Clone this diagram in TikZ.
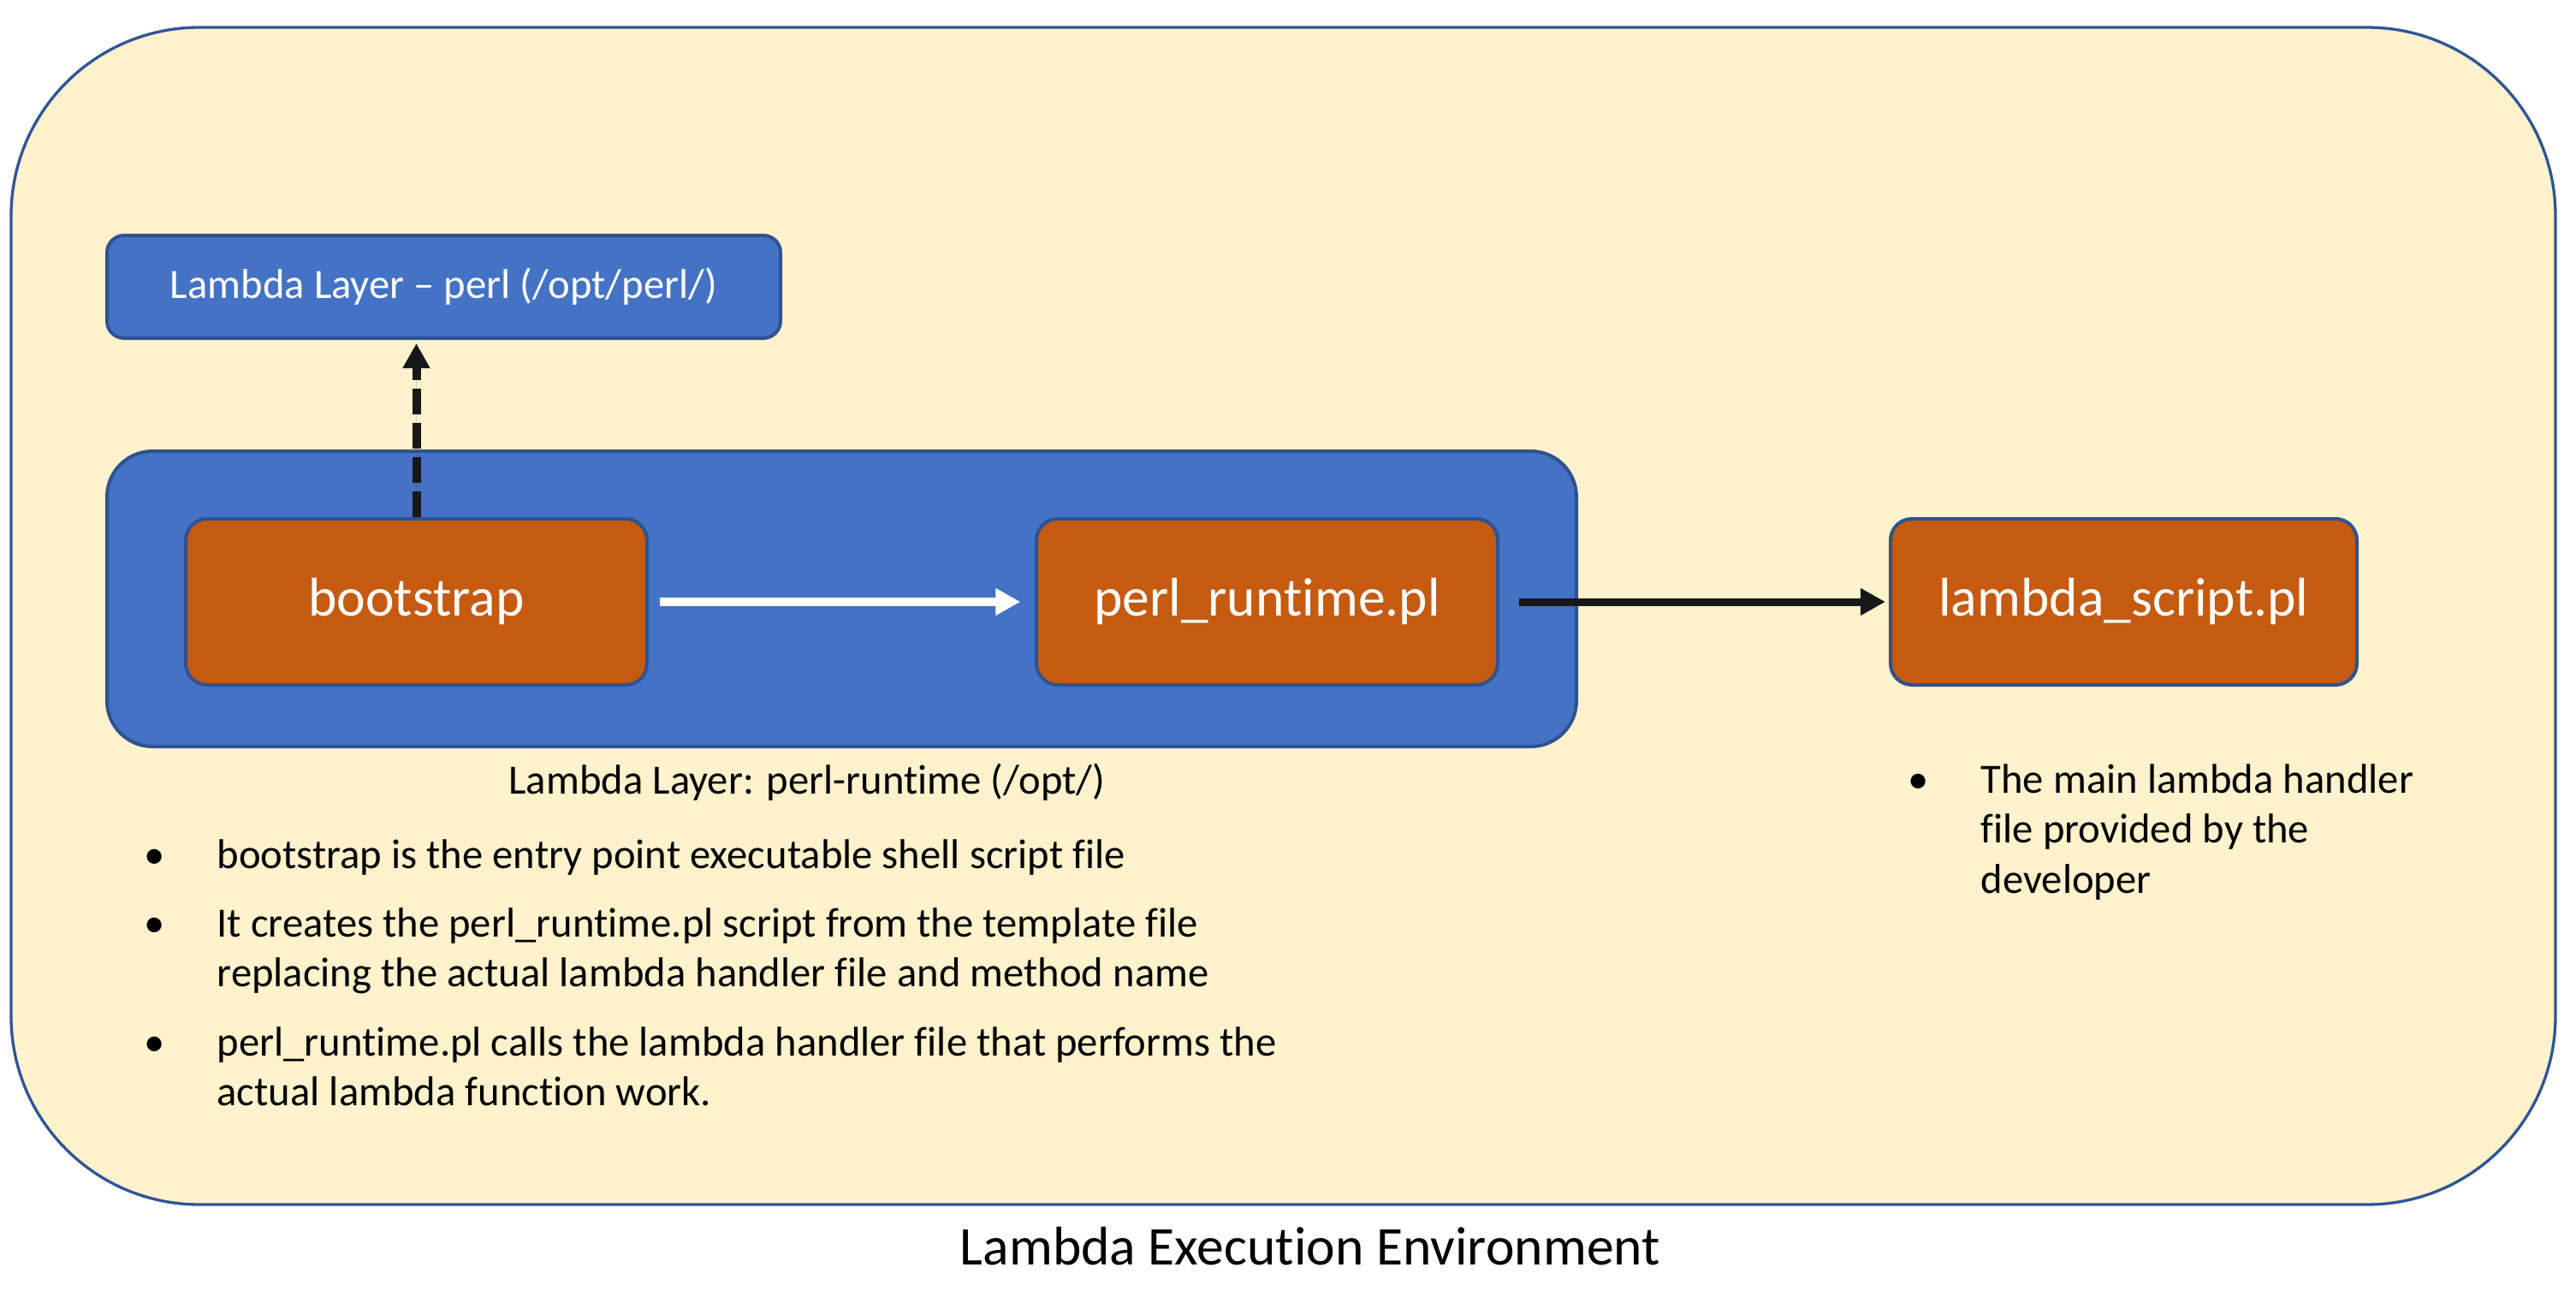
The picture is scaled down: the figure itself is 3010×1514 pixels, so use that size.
\documentclass[tikz,border=0pt]{standalone}
\usepackage{fontspec}
\setmainfont{Carlito}[Ligatures=NoCommon]
\usetikzlibrary{arrows.meta}
\definecolor{envfill}{HTML}{FFF2CC}
\definecolor{envline}{HTML}{2F5597}
\definecolor{layerfill}{HTML}{4472C4}
\definecolor{layerline}{HTML}{2F528F}
\definecolor{filefill}{HTML}{C55A11}
\definecolor{arrowblack}{HTML}{171717}
\tikzset{
  smalltext/.style={font=\fontsize{14.6pt}{17.5pt}\selectfont},
  bigtext/.style={font=\fontsize{19.1pt}{23pt}\selectfont},
  filebox/.style={draw=layerline, fill=filefill, line width=1.2pt, rounded corners=7.5pt,
    text=white, bigtext, inner sep=0pt},
  linebase/.style={anchor=base west, inner sep=0pt, smalltext},
  bulletdot/.style={anchor=base, inner sep=0pt, smalltext},
  headarrow/.style={-{Triangle[length=8.7pt,width=9pt]}},
}
\begin{document}
\begin{tikzpicture}[x=0.3pt,y=-0.3pt]
\useasboundingbox (0,0) rectangle (3010,1514);
% outer environment
\draw[draw=envline, fill=envfill, line width=1pt, rounded corners=66pt] (13,32) rectangle (2986,1407);
\node[anchor=base, inner sep=0pt, bigtext] (envtitle) at (1531,1477) {Lambda Execution Environment};
% top layer box
\node[draw=layerline, fill=layerfill, line width=1.2pt, rounded corners=6pt, text=white, smalltext,
  minimum width=787*0.3pt, minimum height=120*0.3pt, inner sep=0pt, anchor=north west] (perllayer) at (123,273) {Lambda Layer – perl (/opt/perl/)};
% runtime layer box
\node[draw=layerline, fill=layerfill, line width=1.2pt, rounded corners=16pt,
  minimum width=1717*0.3pt, minimum height=345*0.3pt, inner sep=0pt, anchor=north west] (runtimelayer) at (123,525) {};
\node[anchor=base, inner sep=0pt, smalltext] (runtimelabel) at (943,927) {Lambda Layer: perl-runtime (/opt/)};
% file boxes
\node[filebox, minimum width=539*0.3pt, minimum height=194*0.3pt, anchor=north west] (bootstrap) at (215,604) {bootstrap};
\node[filebox, minimum width=539*0.3pt, minimum height=194*0.3pt, anchor=north west] (perlrt) at (1209,604) {perl\_runtime.pl};
\node[filebox, minimum width=545*0.3pt, minimum height=194*0.3pt, anchor=north west] (lscript) at (2207,604) {lambda\_script.pl};
% arrows
\draw[headarrow, draw=arrowblack, fill=arrowblack, line width=3pt, dash pattern=on 9pt off 3pt, shorten >=1.2pt]
  (bootstrap.north) -- (bootstrap.north |- perllayer.south);
\draw[headarrow, draw=white, fill=white, line width=3pt, shorten <=4pt, shorten >=5pt]
  (bootstrap.east) -- (perlrt.west);
\draw[headarrow, draw=arrowblack, fill=arrowblack, line width=2.7pt, shorten <=7pt, shorten >=1.2pt]
  (perlrt.east) -- (perlrt.east -| lscript.west);
% left bullets
\node[bulletdot] (b1) at (181,1014) {•};
\node[linebase] (t1) at (253,1014) {bootstrap is the entry point executable shell script file};
\node[bulletdot] (b2) at (181,1094) {•};
\node[linebase] (t2a) at (253,1094) {It creates the perl\_runtime.pl script from the template file};
\node[linebase] (t2b) at (253,1152) {replacing the actual lambda handler file and method name};
\node[bulletdot] (b3) at (181,1233) {•};
\node[linebase] (t3a) at (253,1233) {perl\_runtime.pl calls the lambda handler file that performs the};
\node[linebase] (t3b) at (253,1291) {actual lambda function work.};
% right bullet
\node[bulletdot] (b4) at (2242,926) {•};
\node[linebase] (t4a) at (2314,926) {The main lambda handler};
\node[linebase] (t4b) at (2314,984) {file provided by the};
\node[linebase] (t4c) at (2314,1043) {developer};
\end{tikzpicture}
\end{document}
